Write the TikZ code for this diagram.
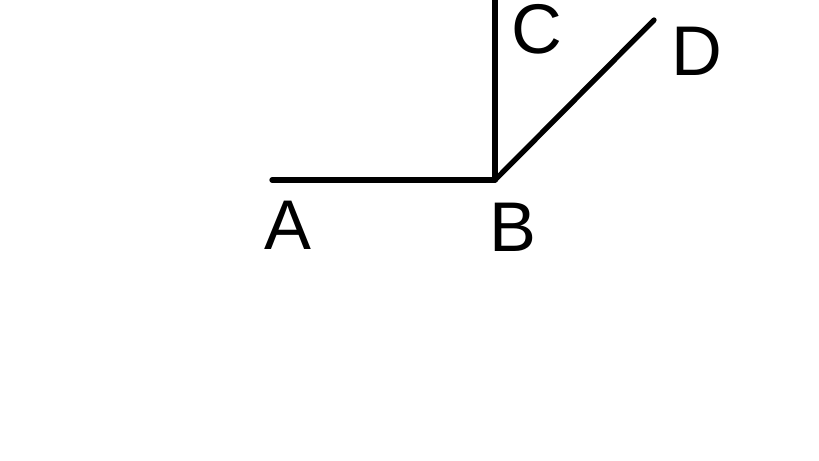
\documentclass[tikz,border=0pt]{standalone}
\usepackage{fontspec}
\setmainfont{Liberation Sans}
\usetikzlibrary{positioning}

\begin{document}
\begin{tikzpicture}[
    x=0.01cm, y=-0.01cm,
    segment/.style={line width=1.5pt, line cap=round},
    letter/.style={font=\fontsize{20}{24}\selectfont, inner sep=0pt}
]
    \useasboundingbox (0,0) rectangle (819,460);

    % Points
    \coordinate (A) at (272,180);
    \coordinate (B) at (495,180);
    \coordinate (C) at (495,0);
    \coordinate (D) at (654,20);

    % Segments
    \draw[segment] (A) -- (B);
    \draw[segment] (B) -- (C);
    \draw[segment] (B) -- (D);

    % Labels
    \node[letter] (labelA) at (288,225) {A};
    \node[letter] (labelB) at (513,227) {B};
    \node[letter] (labelC) at (537,29) {C};
    \node[letter] (labelD) at (697,51) {D};
\end{tikzpicture}
\end{document}
